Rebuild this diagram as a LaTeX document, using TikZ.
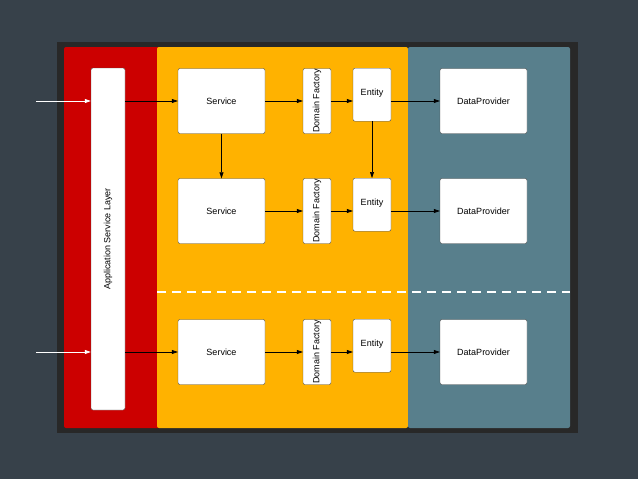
\documentclass[tikz,border=0pt]{standalone}
\usepackage{fontspec}
\setmainfont{Liberation Sans}
\usetikzlibrary{arrows.meta}
\begin{document}
\begin{tikzpicture}[x=1pt,y=-1pt,
  box/.style={draw=black!70,fill=white,rounded corners=2pt,font=\fontsize{9}{10}\selectfont,inner sep=0pt},
  arr/.style={-{Triangle[length=6pt,width=4pt]},black,line width=0.6pt},
  warr/.style={-{Triangle[length=6pt,width=4pt]},white,line width=0.8pt}]
\fill[fill={rgb,255:red,55;green,65;blue,74}] (0,0) rectangle (638,479);
\useasboundingbox (0,0) rectangle (638,479);
\fill[fill={rgb,255:red,40;green,40;blue,40}] (57,42) rectangle (578,433);
\fill[fill={rgb,255:red,204;green,0;blue,0},rounded corners=2pt] (64,47) rectangle (160,428);
\fill[fill={rgb,255:red,255;green,178;blue,0},rounded corners=2pt] (157,47) rectangle (408,428);
\fill[fill={rgb,255:red,88;green,127;blue,140},rounded corners=2pt] (408,47) rectangle (570,428);
\draw[white,line width=2.5pt,dash pattern=on 9pt off 6pt] (157,292) -- (570,292);
\node[box,minimum width=34pt,minimum height=342pt] (asl) at (108,239) {};
\node[rotate=90,font=\fontsize{9}{10}\selectfont] at (asl) {Application Service Layer};
\foreach \i/\y in {1/101,2/211,3/352}{
  \node[box,minimum width=87pt,minimum height=65pt] (s\i) at (221.5,\y) {Service};
  \node[box,minimum width=28pt,minimum height=65pt] (d\i) at (317,\y) {};
  \node[rotate=90,font=\fontsize{9}{10}\selectfont] at (d\i) {Domain Factory};
  \node[box,minimum width=38pt,minimum height=53pt,anchor=north] (e\i) at (372,\y-33) {};
  \node[font=\fontsize{9}{10}\selectfont] at (372,\y-8) {Entity};
  \node[box,minimum width=87pt,minimum height=65pt] (p\i) at (483.5,\y) {DataProvider};
  \draw[arr] (s\i.east) -- (d\i.west);
  \draw[arr] (d\i.east) -- (e\i.west |- d\i.east);
  \draw[arr] (e\i.east |- d\i.east) -- (p\i.west);
}
\coordinate (in1) at (36,101);
\coordinate (in2) at (36,352);
\draw[warr] (in1) -- (asl.west |- in1);
\draw[warr] (in2) -- (asl.west |- in2);
\draw[arr] (asl.east |- s1.west) -- (s1.west);
\draw[arr] (asl.east |- s3.west) -- (s3.west);
\draw[arr] (s1.south) -- (s2.north);
\draw[arr] (e1.south) -- (e2.north);
\end{tikzpicture}
\end{document}
